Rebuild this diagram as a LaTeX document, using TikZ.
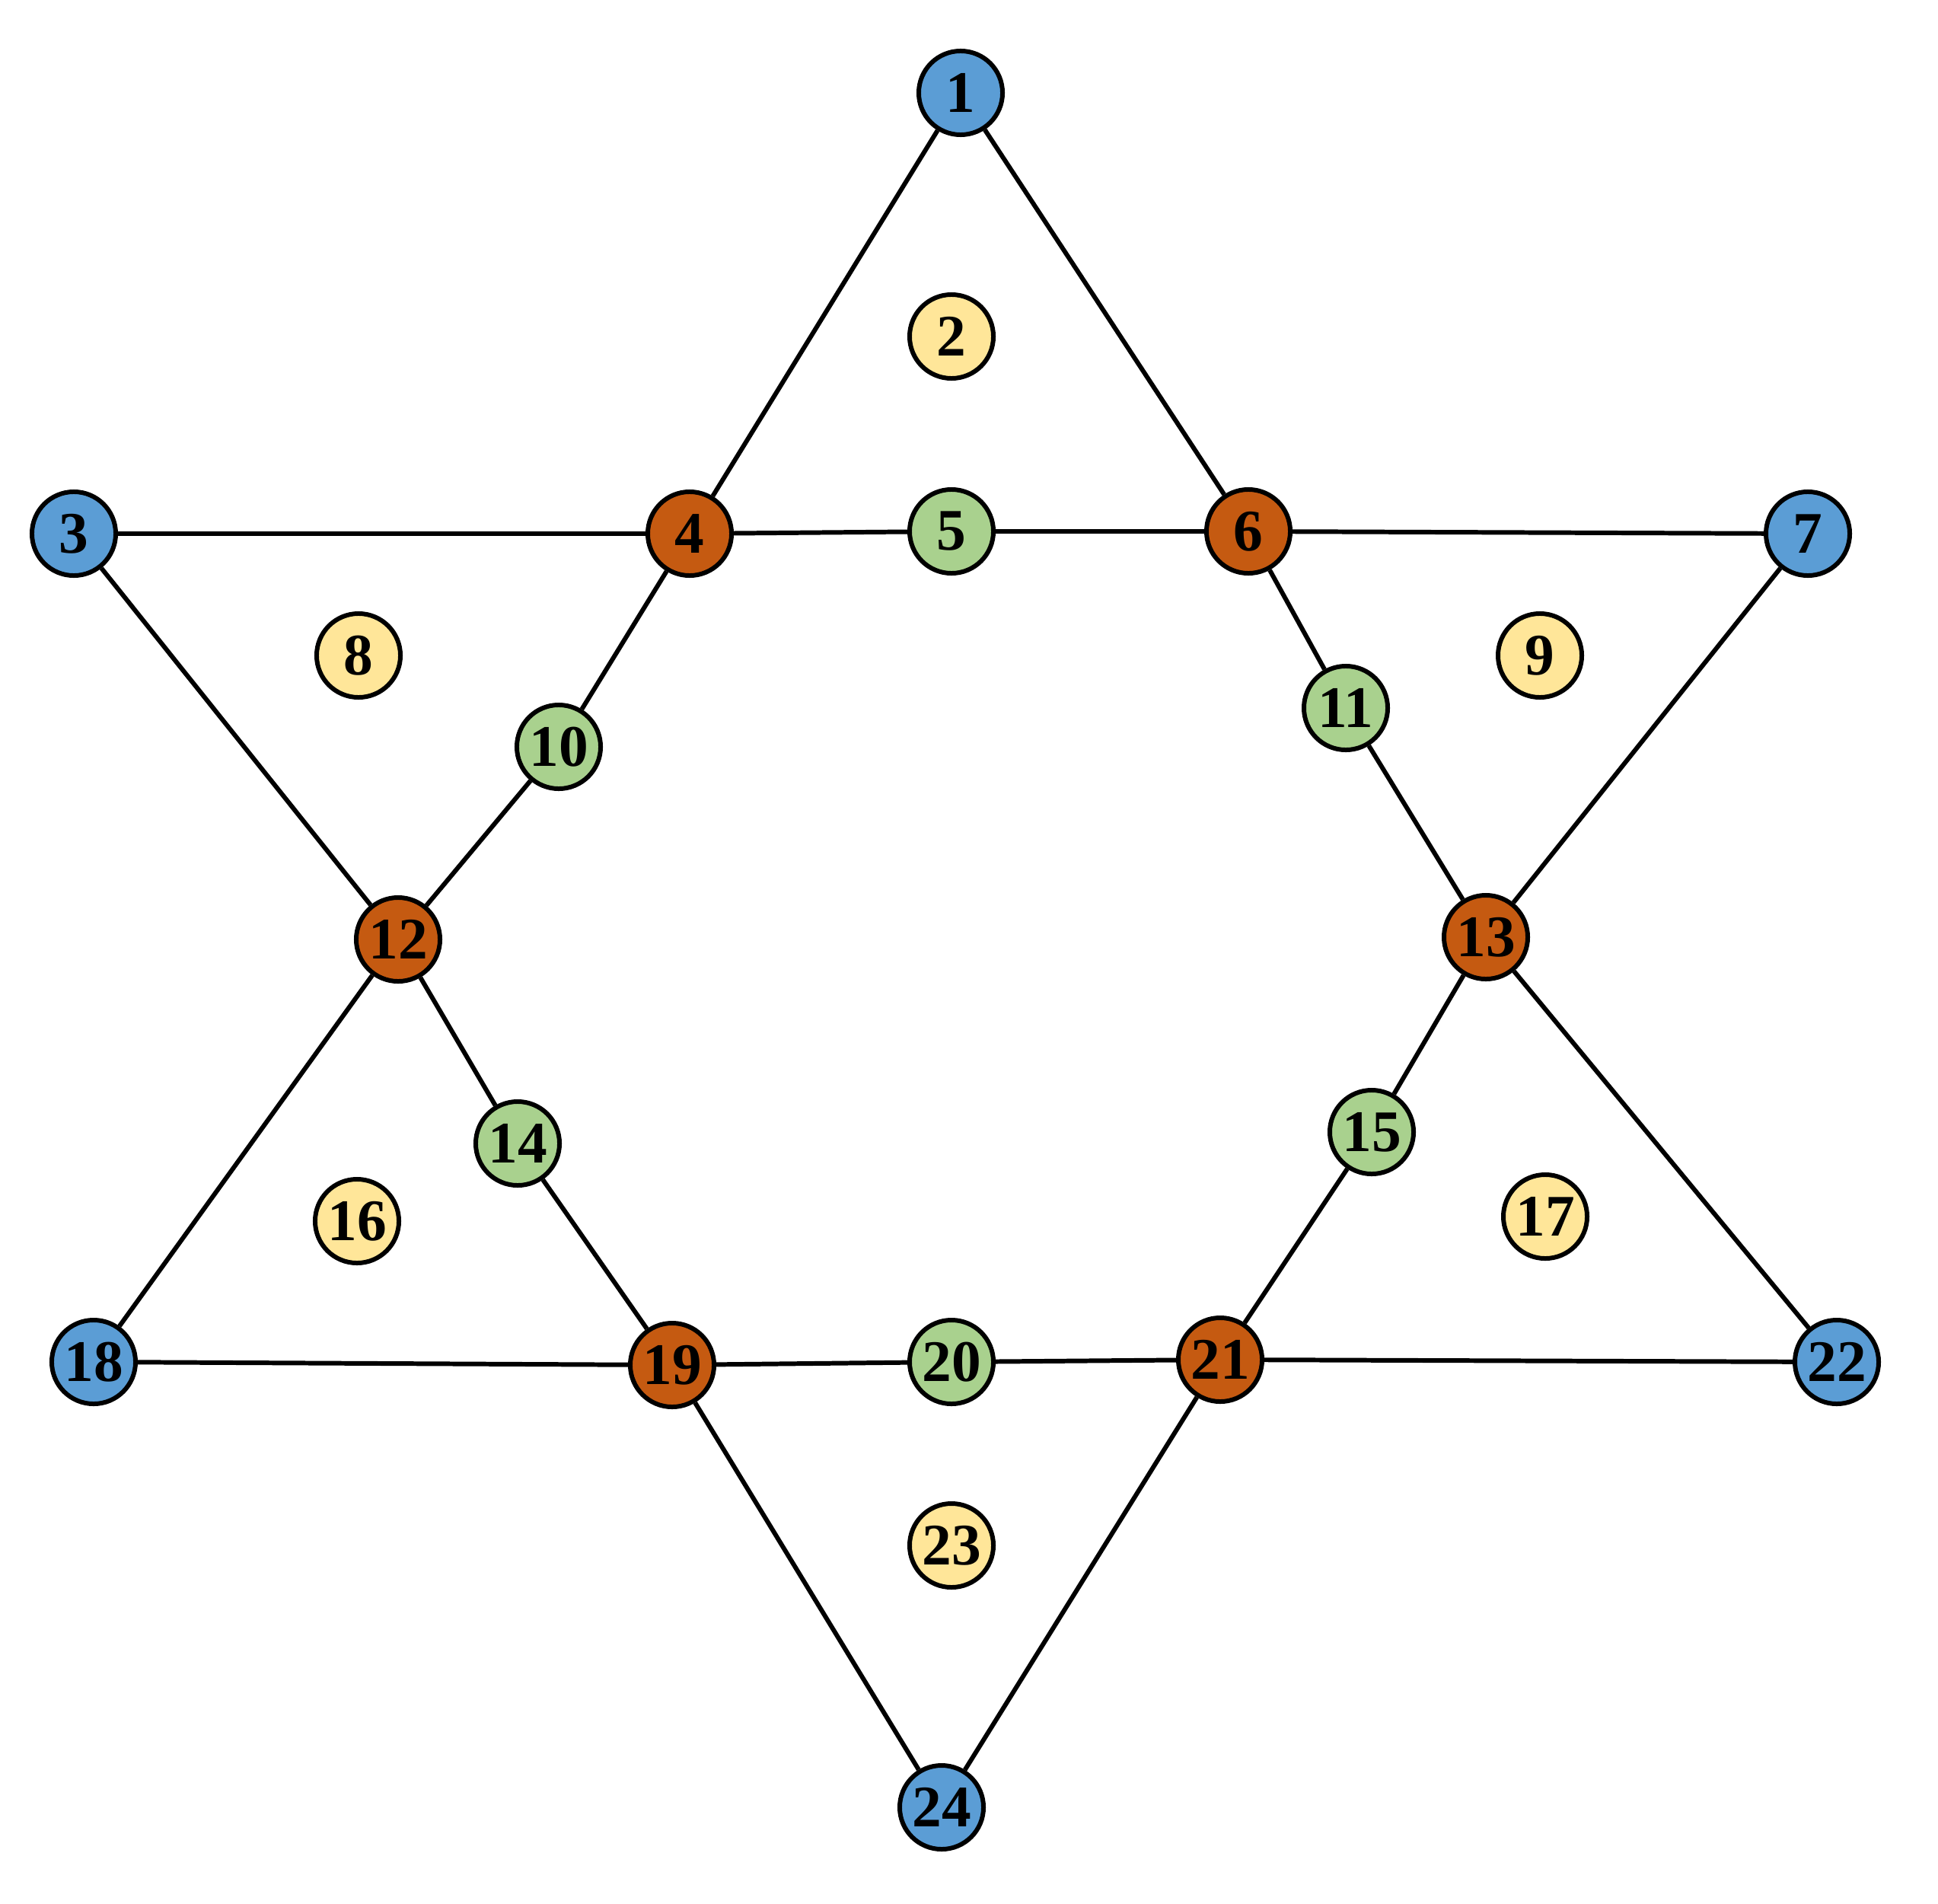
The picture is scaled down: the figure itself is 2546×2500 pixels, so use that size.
\documentclass[tikz,border=0pt]{standalone}
\usepackage{fontspec}
\setmainfont{Liberation Serif}
\usepackage{tikz}

\definecolor{tipblue}{RGB}{91,157,213}
\definecolor{crossorange}{RGB}{197,90,17}
\definecolor{midgreen}{RGB}{169,209,142}
\definecolor{inyellow}{RGB}{255,230,153}

\begin{document}
\begin{tikzpicture}[x=0.01cm,y=-0.01cm,
    pt/.style={circle,draw=black,line width=1.7pt,minimum size=1.1cm,inner sep=0pt,
               font=\bfseries\fontsize{22}{22}\selectfont},
    tip/.style={pt,fill=tipblue},
    cross/.style={pt,fill=crossorange},
    mid/.style={pt,fill=midgreen},
    inner/.style={pt,fill=inyellow},
    edge/.style={line width=1.7pt}]
        \useasboundingbox (0,0) rectangle (2546,2500);

        % outer points
        \node[tip] (n1) at (1262,122) {1};
        \node[tip] (n3) at (97,701) {3};
        \node[tip] (n7) at (2375,701) {7};
        \node[tip] (n18) at (123,1789) {18};
        \node[tip] (n22) at (2413,1789) {22};
        \node[tip] (n24) at (1237,2374) {24};

        % crossings
        \node[cross] (n4) at (906,701) {4};
        \node[cross] (n6) at (1640,698) {6};
        \node[cross] (n12) at (523,1234) {12};
        \node[cross] (n13) at (1952,1231) {13};
        \node[cross] (n19) at (883,1793) {19};
        \node[cross] (n21) at (1603,1786) {21};

        % middles of the hexagon sides
        \node[mid] (n5) at (1250,698) {5};
        \node[mid] (n10) at (734,981) {10};
        \node[mid] (n11) at (1768,930) {11};
        \node[mid] (n14) at (680,1502) {14};
        \node[mid] (n15) at (1802,1487) {15};
        \node[mid] (n20) at (1250,1789) {20};

        % inside the tips
        \node[inner] (n2) at (1250,442) {2};
        \node[inner] (n8) at (471,861) {8};
        \node[inner] (n9) at (2023,861) {9};
        \node[inner] (n16) at (469,1604) {16};
        \node[inner] (n17) at (2030,1598) {17};
        \node[inner] (n23) at (1250,2030) {23};

        % triangle pointing up
        \draw[edge] (n1) -- (n4) -- (n10) -- (n12) -- (n18);
        \draw[edge] (n18) -- (n19) -- (n20) -- (n21) -- (n22);
        \draw[edge] (n22) -- (n13) -- (n11) -- (n6) -- (n1);

        % triangle pointing down
        \draw[edge] (n3) -- (n4) -- (n5) -- (n6) -- (n7);
        \draw[edge] (n7) -- (n13) -- (n15) -- (n21) -- (n24);
        \draw[edge] (n24) -- (n19) -- (n14) -- (n12) -- (n3);
\end{tikzpicture}
\end{document}
